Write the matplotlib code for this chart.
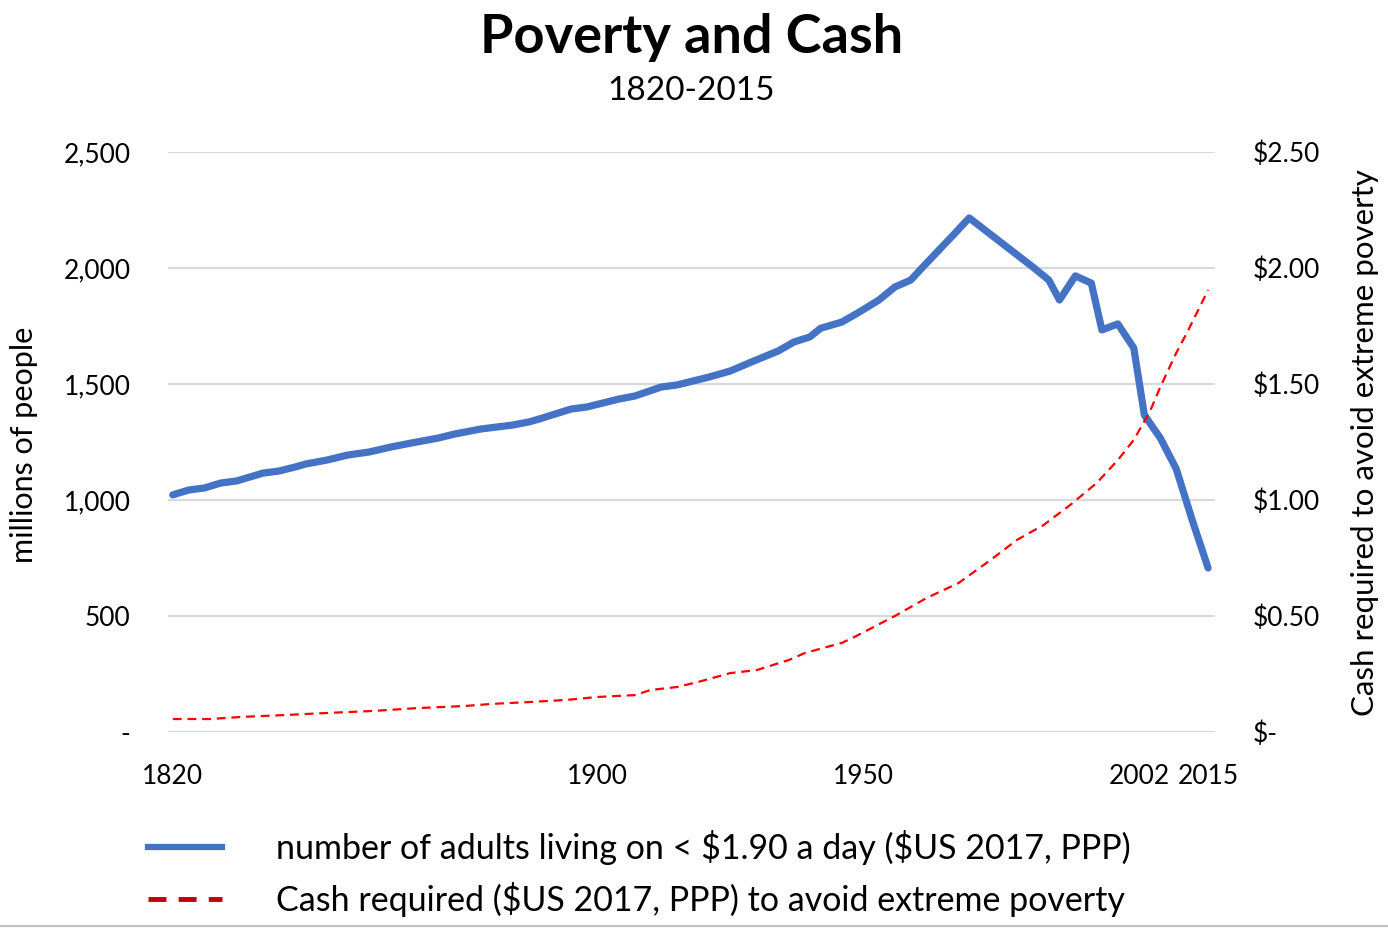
import matplotlib
matplotlib.use("Agg")
import matplotlib.pyplot as plt
from matplotlib.lines import Line2D
from matplotlib.ticker import FuncFormatter


# --- data
poverty_years = [
    1820, 1823, 1826, 1829, 1832, 1837, 1840, 1843, 1845, 1849,
    1853, 1857, 1861, 1865, 1870, 1873, 1878, 1884, 1887, 1889,
    1895, 1898, 1904, 1907, 1912, 1915, 1921, 1923, 1925, 1929,
    1934, 1937, 1940, 1942, 1946, 1949, 1953, 1956, 1959, 1962,
    1967, 1970, 1976, 1982, 1985, 1987, 1990, 1993, 1995, 1998,
    2001, 2003, 2006, 2009, 2012, 2015,
]
poor_millions = [
    1022, 1043, 1052, 1073, 1082, 1116, 1125, 1142, 1155, 1172,
    1194, 1207, 1228, 1246, 1267, 1284, 1306, 1323, 1336, 1349,
    1392, 1401, 1435, 1448, 1487, 1496, 1530, 1543, 1556, 1595,
    1642, 1681, 1703, 1740, 1767, 1806, 1862, 1918, 1948, 2022,
    2142, 2216, 2110, 2004, 1948, 1862, 1966, 1935, 1733, 1759,
    1655, 1366, 1267, 1134, 914, 707,
]

cash_years = [
    1820, 1827, 1833, 1841, 1849, 1858, 1866, 1875, 1880, 1887,
    1894, 1900, 1907, 1910, 1915, 1919, 1925, 1930, 1936, 1939,
    1946, 1948, 1956, 1962, 1968, 1974, 1979, 1984, 1989, 1994,
    1998, 2001, 2004, 2006, 2009, 2011, 2015,
]
cash_required = [
    0.056, 0.056, 0.065, 0.073, 0.082, 0.091, 0.103, 0.112, 0.121, 0.129,
    0.138, 0.151, 0.159, 0.181, 0.194, 0.216, 0.254, 0.267, 0.310, 0.340,
    0.384, 0.405, 0.500, 0.578, 0.642, 0.741, 0.828, 0.892, 0.978, 1.073,
    1.172, 1.259, 1.379, 1.487, 1.634, 1.720, 1.905,
]

x_ticks = [1820, 1900, 1950, 2002, 2015]
left_ticks = [0, 500, 1000, 1500, 2000, 2500]
right_ticks = [0, 0.5, 1.0, 1.5, 2.0, 2.5]

# "\$" keeps matplotlib from reading the dollar signs as math
labels = [
    "number of adults living on < \\$1.90 a day (\\$US 2017, PPP)",
    "Cash required (\\$US 2017, PPP) to avoid extreme poverty",
]

BLUE = "#4472C4"
RED = "#FF0000"
LEGEND_RED = "#C00000"
GRID = "#D9D9D9"

plt.rcParams["font.family"] = ["Lato", "DejaVu Sans"]

W, H = 1388, 931
fig = plt.figure(figsize=(W / 100, H / 100), dpi=100)
fig.patch.set_facecolor("white")

ax = fig.add_axes([168 / W, 199 / H, (1215 - 168) / W, 580 / H])
ax2 = ax.twinx()

ax.plot(poverty_years, poor_millions, color=BLUE, lw=5.2,
        solid_capstyle="round", solid_joinstyle="round", zorder=3)
ax2.plot(cash_years, cash_required, color=RED, lw=1.6,
         linestyle=(0, (4, 2.6)), zorder=4)

ax.set_xlim(1819.1, 2016.3)
ax.set_ylim(0, 2500)
ax2.set_ylim(0, 2.5)

ax.set_yticks(left_ticks)
ax2.set_yticks(right_ticks)
ax.set_xticks(x_ticks)

ax.yaxis.set_major_formatter(
    FuncFormatter(lambda v, _: "-" if v == 0 else f"{v:,.0f}"))
ax2.yaxis.set_major_formatter(
    FuncFormatter(lambda v, _: "$-" if v == 0 else f"${v:.2f}"))

ax.grid(axis="y", color=GRID, lw=1.6)
ax.set_axisbelow(True)

for a in (ax, ax2):
    for spine in a.spines.values():
        spine.set_visible(False)
    a.tick_params(length=0, labelsize=19, colors="black")

ax.tick_params(axis="y", pad=27)
ax2.tick_params(axis="y", pad=27)
ax.tick_params(axis="x", pad=23)

# titles and axis labels
cx = (168 + 1215) / 2 / W
fig.text(cx, 1 - 53 / H, "Poverty and Cash", ha="center", va="baseline",
         fontsize=39, fontweight="bold")
fig.text(cx, 1 - 100 / H, "1820-2015", ha="center", va="baseline",
         fontsize=24)
fig.text(24 / W, 1 - 445 / H, "millions of people", rotation=90,
         ha="center", va="center", fontsize=22)
fig.text(1365 / W, 1 - 443 / H, "Cash required to avoid extreme poverty",
         rotation=90, ha="center", va="center", fontsize=22.5)

# legend
handles = [
    Line2D([], [], color=BLUE, lw=4.5),
    Line2D([], [], color=LEGEND_RED, lw=3.5, linestyle=(0, (3.7, 2.5))),
]
fig.legend(handles, labels, loc="upper left",
           bbox_to_anchor=(148 / W, 1 - 830 / H), frameon=False,
           fontsize=24.5, handlelength=2.17, handletextpad=1.6,
           labelspacing=0.5, borderpad=0, borderaxespad=0)

# chart border at the bottom
fig.add_artist(Line2D([0, 1], [5 / H, 5 / H], transform=fig.transFigure,
                      color="#BFBFBF", lw=1.5))

fig.savefig("out.png", dpi=100, facecolor="white")
plt.close(fig)
